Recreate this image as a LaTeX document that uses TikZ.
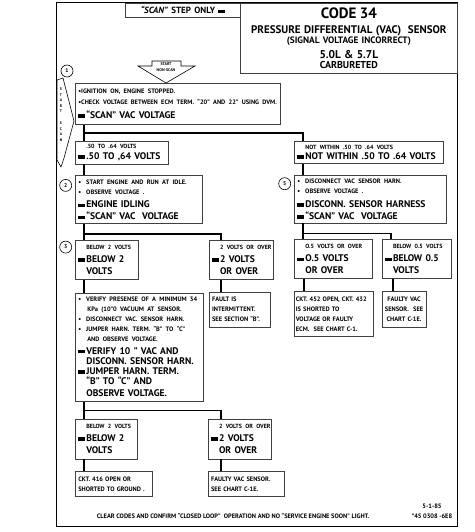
\documentclass[tikz,border=0pt]{standalone}
\usepackage{fontspec}
\setmainfont{PT Sans}
\usetikzlibrary{positioning,calc}
\newcommand\txs{\fontsize{6.4}{10}\selectfont}
\newcommand\txl{\fontsize{9.6}{10.3}\selectfont}
\newcommand\blk{\rule[0.6pt]{6.5pt}{3.6pt}\hspace{1.5pt}}
\newcommand\hd[1]{\fontsize{6}{10}\selectfont\hspace*{8pt}\mbox{#1}\par}
\tikzset{
 box/.style={draw=black!75,line width=0.7pt,anchor=north west,align=left,inner xsep=3pt,inner ysep=2pt,font=\bfseries},
 note/.style={box,font=\bfseries\txs},
 num/.style={circle,draw,line width=0.6pt,minimum size=12pt,inner sep=0pt,font=\bfseries\fontsize{5.5}{5.5}\selectfont},
 lett/.style={inner sep=0pt,font=\bfseries\fontsize{3.8}{3.8}\selectfont},
 conn/.style={line width=1.6pt}
}
\begin{document}
\begin{tikzpicture}[x=1pt,y=-1pt]
\useasboundingbox (0,0) rectangle (474,532);
\draw[line width=1pt] (56,3) rectangle (457,526);
% header
\node[box,align=center,text width=109pt,minimum height=14pt,inner ysep=0pt] (scan) at (125,3) {\fontsize{9}{9}\selectfont\textit{``SCAN''} STEP ONLY \blk};
\node[box,align=center,text width=211pt,minimum height=70pt] (title) at (240,3) {{\fontsize{15}{15}\selectfont CODE 34\par}{\fontsize{11}{15}\selectfont PRESSURE DIFFERENTIAL (VAC)\ \ SENSOR\par}{\fontsize{9.3}{10}\selectfont (SIGNAL VOLTAGE INCORRECT)\par}{\fontsize{11.3}{15}\selectfont 5.0L \& 5.7L\par}{\fontsize{10}{10.5}\selectfont CARBURETED\par}};
% start arrows
\draw[line width=0.6pt] (152,61) -- (181,61) -- (181,66) -- (195,66) -- (166,83) -- (138,66) -- (152,66) -- cycle;
\node[inner sep=0pt,align=center,font=\bfseries\fontsize{4}{5.5}\selectfont] (nonscan) at (166,67) {START\\NON-SCAN};
\node[num] (c1) at (67,71) {1};
\draw[line width=0.6pt] (57,80) -- (63,78) -- (74,121) -- (64,158) -- (61,167) -- (57,160) -- cycle;
\foreach \ch [count=\i] in {S,T,A,R,T} \node[lett] (st\i) at (61,84+5.5*\i) {\ch};
\foreach \ch [count=\i] in {S,C,A,N} \node[lett] (sc\i) at (61,118+5.5*\i) {\ch};
% step 1
\node[box,text width=199pt,minimum height=41pt] (b1) at (75,83) {\fontsize{6.4}{10.5}\selectfont\textbullet IGNITION ON, ENGINE STOPPED.\\\textbullet CHECK VOLTAGE BETWEEN ECM TERM. ``20'' AND 22'' USING DVM.\par\vspace{2pt}\txl\blk ``SCAN'' VAC VOLTAGE};
\node[box,below=16pt of b1.south west,anchor=north west,text width=87pt,minimum height=23pt] (b50) {\hd{.50 TO .64 VOLTS}\vspace{-1.5pt}\txl\blk .50 TO ,64 VOLTS};
\node[box,text width=143pt,minimum height=22pt] (bnot) at (294,141) {\hd{NOT WITHIN .50 TO .64 VOLTS}\vspace{-1.5pt}\txl\blk NOT WITHIN .50 TO .64 VOLTS};
% step 2 and 5
\node[box,below=11pt of b50.south west,anchor=north west,text width=121pt,minimum height=48pt] (b2) {\txs\textbullet\hspace{5pt}START ENGINE AND RUN AT IDLE.\\\textbullet\hspace{5pt}OBSERVE VOLTAGE .\par\vspace{3.5pt}\txl\blk ENGINE IDLING\\\blk ``SCAN'' VAC\ \ VOLTAGE};
\node[num,left=3pt of b2.north west,yshift=-10pt] (c2) {2};
\node[box,below=11pt of bnot.south west,anchor=north west,text width=146pt,minimum height=48pt] (b5) {\txs\textbullet\hspace{5pt}DISCONNECT VAC SENSOR HARN.\\\textbullet\hspace{5pt}OBSERVE VOLTAGE .\par\vspace{3.5pt}\txl\blk DISCONN. SENSOR HARNESS\\\blk ``SCAN'' VAC\ \ VOLTAGE};
\node[num,left=3pt of b5.north west,yshift=-9pt] (c5) {5};
% step 3
\node[box,below=16pt of b2.south west,anchor=north west,text width=57pt,minimum height=39pt] (b3) {\hd{BELOW 2 VOLTS}\vspace{2.5pt}\txl\blk BELOW 2\\\hspace*{8pt}VOLTS};
\node[num,left=3pt of b3.north west,yshift=-7pt] (c3) {3};
\node[box,right=70pt of b3.north east,anchor=north west,text width=58pt,minimum height=39pt] (b2over) {\hd{2 VOLTS OR OVER}\vspace{2.5pt}\txl\blk 2 VOLTS\\\hspace*{8pt}OR OVER};
\node[box,below=16pt of b5.south west,anchor=north west,text width=72pt,minimum height=39pt] (b05over) {\hd{O.5 VOLTS OR OVER}\vspace{2.5pt}\txl\blk O.5 VOLTS\\\hspace*{8pt}OR OVER};
\node[box,right=9pt of b05over.north east,anchor=north west,text width=63pt,minimum height=39pt] (b05below) {\hd{BELOW 0.5 VOLTS}\vspace{2.5pt}\txl\blk BELOW 0.5\\\hspace*{8pt}VOLTS};
% results of step 3
\node[box,below=13pt of b3.south west,anchor=north west,text width=122pt,minimum height=108pt] (bverify) {\txs\textbullet\hspace{5pt}VERIFY PRESENSE OF A MINIMUM 34\\\hspace*{9pt}KPa (10''0 VACUUM AT SENSOR.\\\textbullet\hspace{5pt}DISCONNECT VAC. SENSOR HARN.\\\textbullet\hspace{5pt}JUMPER HARN. TERM. ``B'' TO ``C''\\\hspace*{9pt}AND OBSERVE VOLTAGE.\par\vspace{2pt}\txl\blk VERIFY 10 '' VAC AND\\\hspace*{8pt}DISCONN. SENSOR HARN.\\\blk JUMPER HARN. TERM.\\\hspace*{8pt}``B'' TO ``C'' AND\\\hspace*{8pt}OBSERVE VOLTAGE.};
\node[note,below=12pt of b2over.south west,anchor=north west,text width=55pt,minimum height=35pt] (bint) {FAULT IS\\INTERMITTENT.\\SEE SECTION ``B''.};
\node[note,below=12pt of b05over.south west,anchor=north west,inner xsep=1.5pt,text width=76pt,minimum height=45pt] (bckt452) {CKT. 452 OPEN, CKT. 432\\IS SHORTED TO\\VOLTAGE OR FAULTY\\ECM.\ \ SEE CHART C-1.};
\node[note,below=12pt of b05below.south west,anchor=north west,align=center,inner xsep=1pt,text width=42pt,minimum height=36pt] (bfaulty1) {FAULTY VAC\\SENSOR.\ \ SEE\\CHART C-1E.};
% last step
\node[box,below=17pt of bverify.south west,anchor=north west,text width=56pt,minimum height=40pt] (bb2) {\hd{BELOW 2 VOLTS}\vspace{3pt}\txl\blk BELOW 2\\\hspace*{8pt}VOLTS};
\node[box,right=70pt of bb2.north east,anchor=north west,text width=57pt,minimum height=40pt] (bo2) {\hd{2 VOLTS OR OVER}\vspace{3pt}\txl\blk 2 VOLTS\\\hspace*{8pt}OR OVER};
\node[note,below=12pt of bb2.south west,anchor=north west,text width=71pt,minimum height=25pt] (bckt416) {CKT. 416 OPEN OR\\SHORTED TO GROUND .};
\node[note,below=12pt of bo2.south west,anchor=north west,text width=70pt,minimum height=25pt] (bfaulty2) {FAULTY VAC SENSOR.\\SEE CHART C-1E.};
% footer
\node[font=\bfseries\txs] (clear) at (233,516) {CLEAR CODES AND CONFIRM ``CLOSED LOOP''\ \ OPERATION AND NO ``SERVICE ENGINE SOON'' LIGHT.};
\node[font=\bfseries\txs,align=center] (date) at (432,511) {5-1-85\\*45 0308 -6E8};
% connectors
\foreach \a/\b/\s in {b1/b50/9,b50/b2/9,bnot/b5/9,b2/b3/9,b5/b05over/9,b3/bverify/9,b2over/bint/12,b05over/bckt452/10,b05below/bfaulty1/11,bverify/bb2/9,bb2/bckt416/9,bo2/bfaulty2/13}
  \draw[conn] ([xshift=\s pt]\a.south west) -- ([xshift=\s pt]\b.north west);
\draw[conn] ([xshift=9pt]b1.south west) ++(0,8) -| ([xshift=9pt]bnot.north west);
\draw[conn] ([xshift=9pt]b2.south west) ++(0,10) -| ([xshift=12pt]b2over.north west);
\draw[conn] ([xshift=9pt]b5.south west) ++(0,10) -| ([xshift=9pt]b05below.north west);
\draw[conn] ([xshift=9pt]bverify.south west) ++(0,9) -| ([xshift=13pt]bo2.north west);
\end{tikzpicture}
\end{document}
